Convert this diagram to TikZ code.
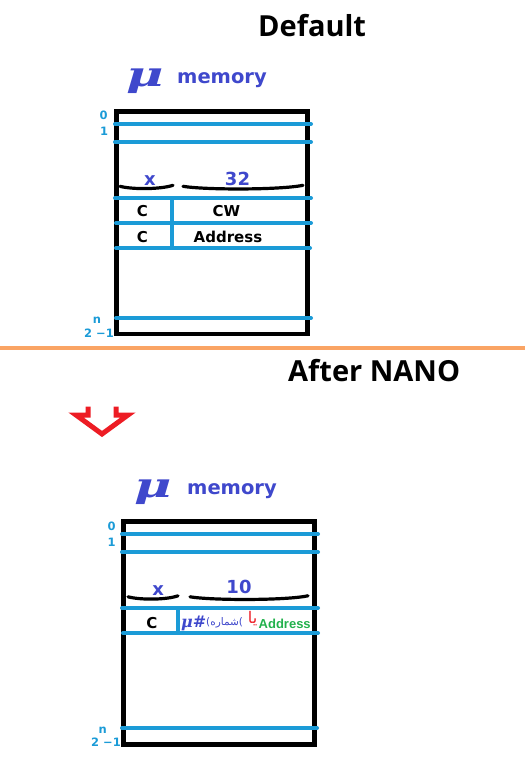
\documentclass[tikz,border=0pt]{standalone}
\usepackage{fontspec}
\setmainfont{DejaVu Sans}
\newfontfamily\titlefont{Open Sans}
\newfontfamily\boxfont{DejaVu Sans}
\newfontfamily\narrowfont{Liberation Sans}
\newfontfamily\mufont{DejaVu Serif}
\newfontfamily\arabicfont[Script=Arabic]{DejaVu Sans}
\TeXXeTstate=1
\definecolor{lineblue}{RGB}{27,155,215}
\definecolor{ink}{RGB}{63,72,204}
\definecolor{paintred}{RGB}{237,28,36}
\definecolor{paintgreen}{RGB}{34,177,76}
\definecolor{sepline}{RGB}{250,164,100}
\tikzset{
  frame/.style={draw=black,line width=4.5pt},
  rowline/.style={draw=lineblue,line width=4pt,line cap=round},
  divider/.style={draw=lineblue,line width=3.5pt},
  idx/.style={text=lineblue,font=\boxfont\bfseries\fontsize{11.5}{11.5}\selectfont,inner sep=0pt,anchor=base},
  brace/.style={draw=black,line width=3.2pt,line cap=round},
  hdr/.style={text=ink,font=\boxfont\bfseries\fontsize{18}{18}\selectfont,inner sep=0pt,anchor=base},
  cell/.style={text=black,font=\boxfont\bfseries\fontsize{15}{15}\selectfont,inner sep=0pt,anchor=base},
  title/.style={text=black,font=\titlefont\bfseries\fontsize{29}{29}\selectfont,inner sep=0pt,anchor=base west},
  memlabel/.style={text=ink,font=\boxfont\bfseries\fontsize{19.5}{19.5}\selectfont,inner sep=0pt,anchor=base west},
  mulogo/.style={text=ink,font=\mufont\bfseries\itshape\fontsize{34}{34}\selectfont,inner sep=0pt,xscale=1.5,transform shape},
  redarrow/.style={draw=paintred,line width=5pt,miter limit=10}
}
\begin{document}
\begin{tikzpicture}[x=1pt,y=-1pt]
\useasboundingbox (0,0) rectangle (525,760);

% ---------- Default ----------
\node[title] (deftitle) at (258,36.5) {Default};
\node[mulogo] (mu1) at (145,81) {μ};
\node[memlabel] (mem1) at (177,83.5) {memory};

\draw[frame] (116.5,111.5) rectangle (307.5,334);
\draw[rowline] (115,124) -- (311,124);
\draw[rowline] (115,142) -- (311,142);
\draw[rowline] (115,198) -- (311,198);
\draw[rowline] (116,223) -- (311,223);
\draw[rowline] (116,248) -- (310,248);
\draw[rowline] (116,318) -- (311,318);
\draw[divider] (172,198) -- (172,248);

\node[idx] (z1) at (103.5,119.5) {0};
\node[idx] (o1) at (104,135.5) {1};
\node[idx] (n1) at (97,323.5) {n};
\node[idx] (m1) at (99,337) {2 −1};

\draw[brace] (120,186.3) .. controls (132,189.5) and (160,189.5) .. (173,185.3);
\draw[brace] (183,186.3) .. controls (205,190) and (280,190) .. (303,185.3);
\node[hdr] (x1) at (150,185) {x};
\node[hdr] (w1) at (237.5,185) {32};

\node[cell] (c1a) at (142.5,216.7) {C};
\node[cell] (cw1) at (226.3,216.7) {CW};
\node[cell] (c1b) at (142.5,242.3) {C};
\node[cell] (ad1) at (228,242.3) {Address};

% ---------- separator ----------
\draw[draw=sepline,line width=4pt] (0,348) -- (525,348);

% ---------- After NANO ----------
\node[title] (aftitle) at (288,381.5) {After NANO};
\draw[redarrow] (88,406.5) -- (88,415) -- (76,415) -- (102,434) -- (128,415) -- (116,415) -- (116,406.5);

\node[mulogo] (mu2) at (153,492) {μ};
\node[memlabel] (mem2) at (187,494.3) {memory};

\draw[frame] (123.5,521.5) rectangle (314.5,744.5);
\draw[rowline] (122,534) -- (318,534);
\draw[rowline] (122,552) -- (318,552);
\draw[rowline] (122,608) -- (318,608);
\draw[rowline] (123,633) -- (318,633);
\draw[rowline] (122,728) -- (317,728);
\draw[divider] (178,608) -- (178,633);

\node[idx] (z2) at (111.7,530.5) {0};
\node[idx] (o2) at (111.7,546.5) {1};
\node[idx] (n2) at (102.7,733.5) {n};
\node[idx] (m2) at (106,746.5) {2 −1};

\draw[brace] (128,596.8) .. controls (140,600) and (166,600) .. (178,595.8);
\draw[brace] (190,596.8) .. controls (212,600.5) and (286,600.5) .. (308,595.8);
\node[hdr] (x2) at (158.3,595) {x};
\node[hdr] (w2) at (239,593.3) {10};

\node[cell] (c2) at (152,628) {C};
\node[text=ink,font=\mufont\bfseries\itshape\fontsize{16}{16}\selectfont,inner sep=0pt,anchor=base west] (mu3) at (181,627) {μ\#};
\node[text=ink,font=\boxfont\fontsize{10.5}{10.5}\selectfont,inner sep=0pt,anchor=base west] (num) at (206,625) {(\arabicfont\beginR شماره\endR)};
\node[text=paintred,font=\arabicfont\fontsize{16}{16}\selectfont,inner sep=0pt,anchor=base east] (ya) at (257.5,623) {\beginR یا\endR};
\node[text=paintgreen,font=\narrowfont\bfseries\fontsize{13}{13}\selectfont,inner sep=0pt,anchor=base west] (ad2) at (258.5,628) {Address};
\end{tikzpicture}
\end{document}
